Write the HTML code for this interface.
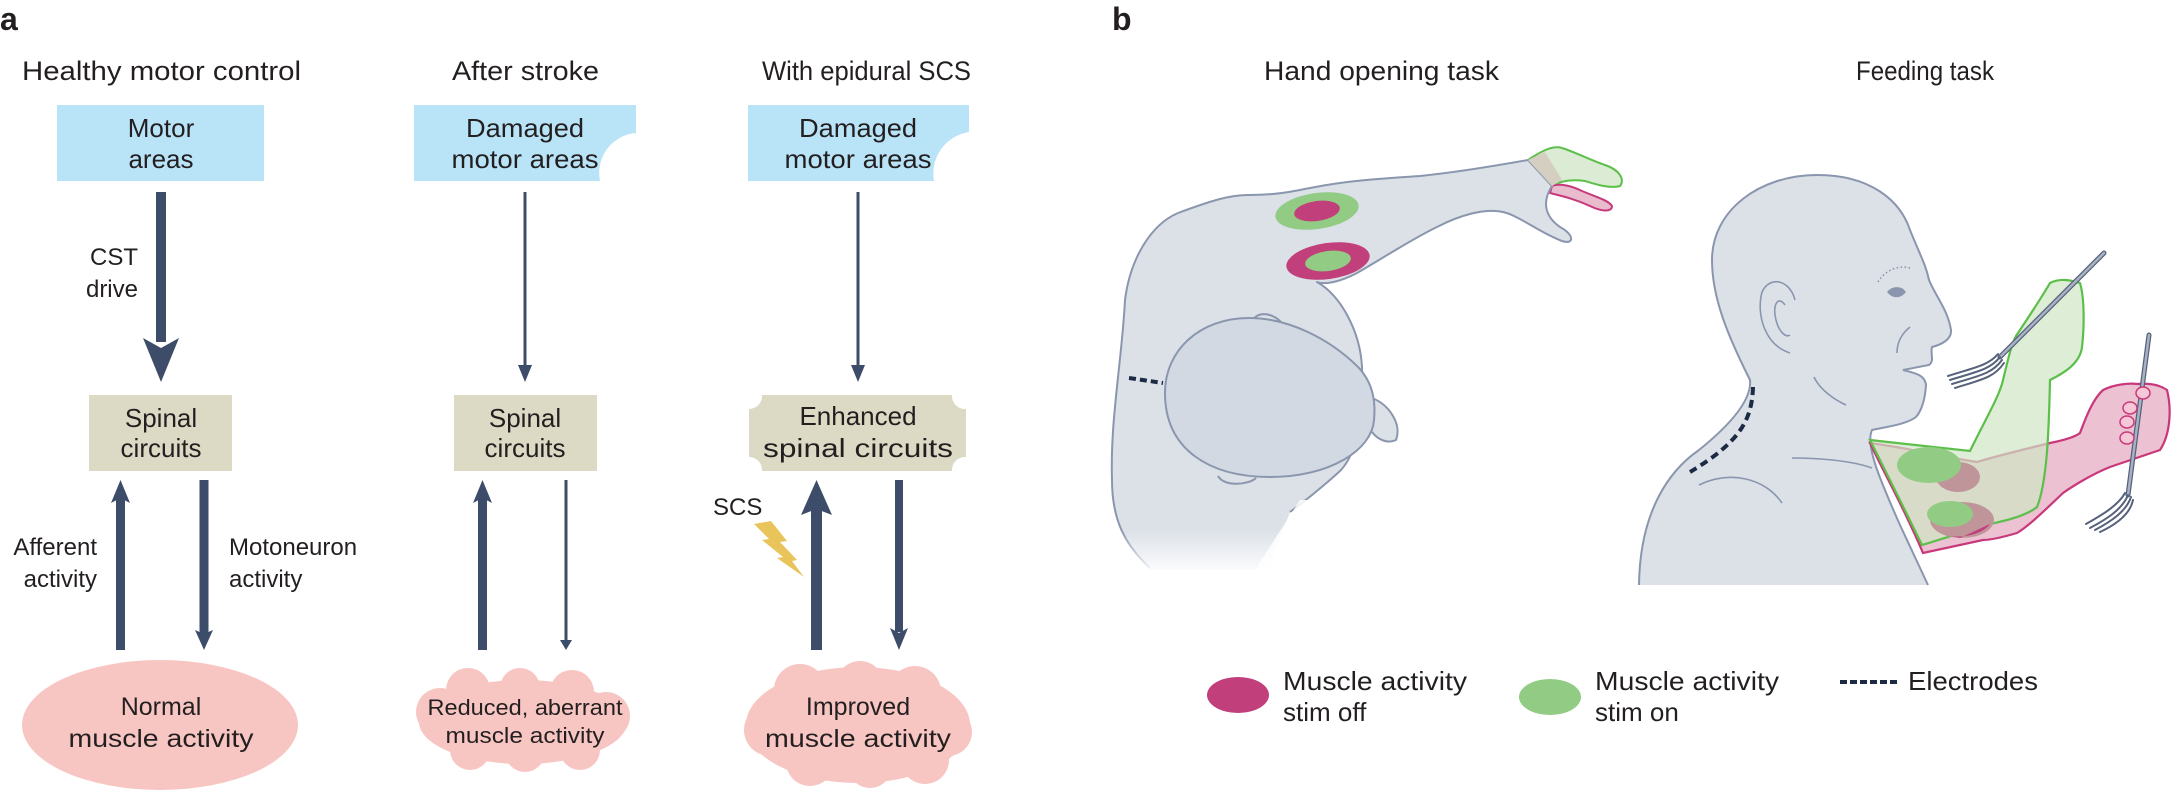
<!DOCTYPE html>
<html><head><meta charset="utf-8"><style>html,body{margin:0;padding:0;background:#fff}svg{display:block}</style></head><body>
<svg width="2171" height="791" viewBox="0 0 2171 791" xmlns="http://www.w3.org/2000/svg" font-family="Liberation Sans, sans-serif" fill="#231f20">
<defs>
<linearGradient id="fade" x1="0" y1="0" x2="0" y2="1"><stop offset="0" stop-color="#fff" stop-opacity="0"/><stop offset="1" stop-color="#fff" stop-opacity="1"/></linearGradient>
</defs>
<!-- panel labels -->
<text x="0" y="30" font-size="32" font-weight="bold">a</text>
<text x="1112" y="30" font-size="32" font-weight="bold">b</text>
<!-- titles -->
<g font-size="27">
<text x="22" y="80" textLength="279" lengthAdjust="spacingAndGlyphs">Healthy motor control</text>
<text x="452" y="80" textLength="147" lengthAdjust="spacingAndGlyphs">After stroke</text>
<text x="762" y="80" textLength="209" lengthAdjust="spacingAndGlyphs">With epidural SCS</text>
<text x="1264" y="80" textLength="235" lengthAdjust="spacingAndGlyphs">Hand opening task</text>
<text x="1856" y="80" textLength="138" lengthAdjust="spacingAndGlyphs">Feeding task</text>
</g>
<!-- motor boxes -->
<rect x="57" y="105" width="207" height="76" fill="#b9e4f8"/>
<path d="M414,105 H636 V133 A40,40 0 0 0 600,181 H414 Z" fill="#b9e4f8"/>
<path d="M748,105 H969 V132 A42,42 0 0 0 934,181 H748 Z" fill="#b9e4f8"/>
<g font-size="26" text-anchor="middle">
<text x="161" y="137">Motor</text><text x="161" y="168">areas</text>
<text x="525" y="137" textLength="118" lengthAdjust="spacingAndGlyphs">Damaged</text><text x="525" y="168" textLength="147" lengthAdjust="spacingAndGlyphs">motor areas</text>
<text x="858" y="137" textLength="118" lengthAdjust="spacingAndGlyphs">Damaged</text><text x="858" y="168" textLength="147" lengthAdjust="spacingAndGlyphs">motor areas</text>
</g>
<!-- top arrows -->
<g fill="#3d4d69">
<rect x="156" y="192" width="10" height="150"/><path d="M143,338 L161,382 L179,338 L161,348 Z"/>
<rect x="523.5" y="192" width="3" height="178"/><path d="M518,365 L525,382 L532,365 Z"/>
<rect x="856.5" y="192" width="3" height="178"/><path d="M851,365 L858,382 L865,365 Z"/>
</g>
<g font-size="24" text-anchor="end"><text x="138" y="265">CST</text><text x="138" y="297">drive</text></g>
<!-- spinal boxes -->
<rect x="89" y="395" width="143" height="76" fill="#dcdac4"/>
<rect x="454" y="395" width="143" height="76" fill="#dcdac4"/>
<path d="M762,395 H952 A13,13 0 0 0 966,409 V457 A13,13 0 0 0 952,471 H762 A13,13 0 0 0 749,457 V409 A13,13 0 0 0 762,395 Z" fill="#dcdac4"/>
<g font-size="26" text-anchor="middle">
<text x="161" y="427">Spinal</text><text x="161" y="457">circuits</text>
<text x="525" y="427">Spinal</text><text x="525" y="457">circuits</text>
<text x="858" y="425">Enhanced</text><text x="858" y="457" textLength="190" lengthAdjust="spacingAndGlyphs">spinal circuits</text>
</g>
<!-- vertical arrows -->
<g fill="#3d4d69">
<rect x="116" y="495" width="9" height="155"/><path d="M111,503 L120.5,480 L130,503 L120.5,498 Z"/>
<rect x="199.5" y="480" width="9" height="155"/><path d="M195,630 L204,650 L213,630 L204,634 Z"/>
<rect x="478" y="495" width="9" height="155"/><path d="M473,503 L482.5,480 L492,503 L482.5,498 Z"/>
<rect x="564.5" y="480" width="3" height="163"/><path d="M560,640 L566,650 L572,640 Z"/>
<rect x="811" y="505" width="11" height="145"/><path d="M801,515 L816.5,480 L832,515 L816.5,509 Z"/>
<rect x="895" y="480" width="8" height="152"/><path d="M890,628 L899,650 L908,628 L899,633 Z"/>
</g>
<g font-size="24">
<text x="97" y="555" text-anchor="end">Afferent</text><text x="97" y="587" text-anchor="end">activity</text>
<text x="229" y="555">Motoneuron</text><text x="229" y="587">activity</text>
<text x="713" y="515">SCS</text>
</g>
<path d="M754,524 L771,521 L787,541 L780,542 L797,560 L792,561 L804,577 L777,558 L783,557 L762,540 L769,539 Z" fill="#e8c45a"/>
<!-- muscle shapes -->
<ellipse cx="160" cy="725" rx="138" ry="65" fill="#f8c6c2"/>
<g fill="#f8c6c2">
<ellipse cx="523" cy="722" rx="104" ry="42"/>
<circle cx="468" cy="690" r="22"/><circle cx="520" cy="688" r="20"/><circle cx="572" cy="692" r="22"/>
<circle cx="440" cy="712" r="24"/><circle cx="606" cy="716" r="24"/><circle cx="470" cy="750" r="20"/>
<circle cx="525" cy="752" r="20"/><circle cx="580" cy="750" r="20"/>
<ellipse cx="858" cy="725" rx="112" ry="58"/>
<circle cx="800" cy="690" r="26"/><circle cx="860" cy="685" r="24"/><circle cx="915" cy="692" r="26"/>
<circle cx="770" cy="730" r="26"/><circle cx="948" cy="732" r="24"/><circle cx="810" cy="762" r="24"/>
<circle cx="870" cy="766" r="22"/><circle cx="925" cy="760" r="24"/>
</g>
<g font-size="25" text-anchor="middle">
<text x="161" y="715">Normal</text><text x="161" y="747" textLength="185" lengthAdjust="spacingAndGlyphs">muscle activity</text>
<text x="858" y="715">Improved</text><text x="858" y="747" textLength="186" lengthAdjust="spacingAndGlyphs">muscle activity</text>
</g>
<g font-size="22" text-anchor="middle">
<text x="525" y="715" textLength="195" lengthAdjust="spacingAndGlyphs">Reduced, aberrant</text><text x="525" y="743" textLength="159" lengthAdjust="spacingAndGlyphs">muscle activity</text>
</g>

<!-- hand opening figure -->
<g stroke="#8a96ad" stroke-width="2" stroke-linejoin="round">
<path d="M1528,160 C1540,152 1552,145 1562,148 C1575,152 1590,160 1605,165 C1620,170 1625,180 1620,186 C1610,189 1595,184 1585,181 C1570,179 1560,181 1552,186 Z" fill="#dcebd3" stroke="#5cc04a"/>
<path d="M1552,186 C1560,183 1572,186 1582,191 C1596,197 1608,200 1612,206 C1612,213 1600,211 1590,206 C1575,199 1562,196 1550,193 Z" fill="#e9bccd" stroke="#c8387a"/>
<path d="M1178,213 C1213,200 1230,195 1249,195 C1275,195 1290,192 1310,188 C1350,180 1390,178 1420,176 C1460,172 1500,165 1528,160 L1552,186 C1543,200 1543,215 1560,227 C1575,235 1574,245 1562,241 C1540,233 1518,215 1503,212 C1485,208 1460,215 1437,227 C1410,240 1380,260 1357,273 C1340,282 1325,285 1317,282 C1340,295 1360,330 1362,367 L1362,400 C1360,440 1350,460 1341,470 C1320,490 1300,505 1290,512 L1268,570 L1150,570 C1125,545 1112,520 1112,480 C1110,420 1122,360 1125,300 C1130,260 1150,225 1178,213 Z" fill="#dce1e8" stroke="none"/>
<path d="M1290,512 C1320,490 1341,470 1341,470 C1350,460 1360,440 1362,400 L1362,367 C1360,330 1340,295 1317,282 C1325,285 1340,282 1357,273 C1380,260 1410,240 1437,227 C1460,215 1485,208 1503,212 C1518,215 1540,233 1562,241 C1574,245 1575,235 1560,227 C1543,215 1543,200 1552,186 L1528,160 C1500,165 1460,172 1420,176 C1390,178 1350,180 1310,188 C1290,192 1275,195 1249,195 C1230,195 1213,200 1178,213 C1150,225 1130,260 1125,300 C1122,360 1110,420 1112,480 C1112,520 1125,545 1150,568" fill="none"/>
<path d="M1528,160 L1552,186 L1562,180 L1545,152 Z" fill="#d4cfc0" stroke="none"/>
<path d="M1252,322 C1256,310 1275,312 1284,326" fill="#dce1e8"/>
<path d="M1372,398 C1390,405 1402,425 1396,440 C1388,444 1378,440 1372,432" fill="#dce1e8"/>
<path d="M1218,476 C1225,488 1250,484 1256,478" fill="#dce1e8"/>
<path d="M1165,393 C1165,350 1200,318 1249,318 C1290,318 1330,340 1356,365 C1372,380 1376,400 1374,420 C1372,450 1330,477 1270,477 C1210,477 1165,450 1165,393 Z" fill="#d2d9e2"/>
</g>
<path d="M1255,570 L1300,500 L1330,500 L1290,575 Z" fill="#fff" opacity="0.85"/>
<rect x="1100" y="530" width="220" height="45" fill="url(#fade)"/>
<path d="M1129,378 L1163,383" stroke="#1c2a44" stroke-width="4" stroke-dasharray="7,4"/>
<g transform="rotate(-8 1317 211)"><ellipse cx="1317" cy="211" rx="42" ry="18" fill="#92cc84"/><ellipse cx="1317" cy="211" rx="23" ry="10" fill="#c13f7a"/></g>
<g transform="rotate(-8 1328 261)"><ellipse cx="1328" cy="261" rx="42" ry="18" fill="#c13f7a"/><ellipse cx="1328" cy="261" rx="23" ry="10" fill="#92cc84"/></g>

<!-- feeding figure -->
<path d="M1639,585 C1640,510 1670,470 1699,450 C1730,425 1752,400 1750,380 C1730,340 1712,300 1712,260 C1712,210 1760,175 1817,175 C1870,175 1900,200 1910,230 C1920,255 1926,265 1929,280 C1935,295 1948,310 1951,330 C1952,340 1940,345 1932,347 C1930,355 1935,360 1929,365 L1903,370 C1915,373 1925,375 1926,385 C1925,400 1922,410 1916,417 C1905,425 1885,427 1872,430 C1865,445 1880,480 1900,525 L1928,585 Z" fill="#dce1e8"/>
<path d="M1639,585 C1640,510 1670,470 1699,450 C1730,425 1752,400 1750,380 C1730,340 1712,300 1712,260 C1712,210 1760,175 1817,175 C1870,175 1900,200 1910,230 C1920,255 1926,265 1929,280 C1935,295 1948,310 1951,330 C1952,340 1940,345 1932,347 C1930,355 1935,360 1929,365 L1903,370 C1915,373 1925,375 1926,385 C1925,400 1922,410 1916,417 C1905,425 1885,427 1872,430 C1865,445 1880,480 1900,525 L1928,585" fill="none" stroke="#8a96ad" stroke-width="2"/>
<g fill="none" stroke="#8a96ad" stroke-width="1.6">
<path d="M1795,300 C1790,280 1770,275 1762,292 C1756,315 1765,345 1790,353"/>
<path d="M1785,305 C1778,295 1772,305 1776,320 C1779,332 1786,338 1790,335"/>
<path d="M1888,292 C1893,286 1902,287 1905,292 C1900,298 1893,298 1888,292 Z" fill="#8a96ad"/>
<path d="M1878,282 C1885,270 1898,265 1910,268" stroke-dasharray="1.5,2.5"/>
<path d="M1910,327 C1900,335 1897,345 1897,353"/>
<path d="M1814,377 C1820,390 1835,400 1846,405"/>
<path d="M1792,458 C1815,458 1850,460 1872,468"/>
<path d="M1699,485 C1730,470 1765,478 1782,503"/>
</g>
<path d="M1753,387 C1752,420 1740,442 1690,472" fill="none" stroke="#1c2a44" stroke-width="4" stroke-dasharray="8,5"/>
<!-- arms -->
<path d="M1870,443 C1920,450 1950,458 1977,462 C2000,455 2030,448 2050,443 C2065,440 2075,437 2080,433 C2085,420 2092,400 2103,390 C2115,384 2130,383 2137,384 C2150,383 2160,385 2167,390 C2172,410 2170,435 2160,450 C2145,455 2125,462 2110,467 C2090,475 2070,488 2063,493 C2045,510 2030,525 2017,533 C2000,538 1990,540 1983,540 L1923,553 C1905,510 1885,475 1870,443 Z" fill="#e4a7be" fill-opacity="0.7" stroke="#c8387a" stroke-width="2.2"/>
<path d="M1870,440 L1970,451 C1985,420 2000,395 2003,380 C2008,360 2012,340 2018,333 C2030,315 2040,300 2050,283 C2060,278 2070,280 2080,283 C2085,300 2084,330 2082,347 C2080,365 2060,375 2050,380 C2049,420 2048,480 2037,507 C2025,517 2000,522 1990,524 L1922,545 C1905,510 1885,470 1870,440 Z" fill="#cfe6c5" fill-opacity="0.7" stroke="#5cbf4a" stroke-width="2.2"/>
<ellipse cx="1958" cy="477" rx="22" ry="15" fill="#c0959a"/>
<ellipse cx="1929" cy="465" rx="32" ry="18" fill="#92cc84"/>
<ellipse cx="1962" cy="520" rx="32" ry="18" fill="#c0959a"/>
<path d="M1945,535 C1965,540 1985,532 1990,524 L1960,538 Z" fill="#c13f7a"/>
<ellipse cx="1950" cy="514" rx="23" ry="13" fill="#92cc84"/>
<!-- forks -->
<g stroke="#56627a" fill="none" stroke-linecap="round">
<path d="M2104,253 L2000,357" stroke-width="5"/><path d="M2104,253 L2000,357" stroke="#a9b2c4" stroke-width="2.5"/>
<path d="M2000,357 C1990,370 1975,372 1950,380 M2002,360 C1992,374 1978,376 1952,384 M1998,354 C1988,366 1972,368 1948,376 M2004,363 C1994,378 1980,380 1955,388" stroke-width="2"/>
<path d="M2149,335 L2128,495" stroke-width="5"/><path d="M2149,335 L2128,495" stroke="#a9b2c4" stroke-width="2.5"/>
<path d="M2128,495 C2122,510 2105,520 2090,528 M2131,497 C2126,512 2110,522 2095,530 M2125,493 C2118,506 2100,516 2086,524 M2133,500 C2130,515 2115,525 2100,532" stroke-width="2"/>
</g>
<g fill="#f6c7d7" stroke="#c8387a" stroke-width="1.5">
<ellipse cx="2143" cy="393" rx="7" ry="6"/><ellipse cx="2130" cy="408" rx="7" ry="6"/><ellipse cx="2127" cy="422" rx="7" ry="6"/><ellipse cx="2127" cy="438" rx="7" ry="6"/>
</g>
<!-- legend -->
<ellipse cx="1238" cy="695" rx="31" ry="18" fill="#c13f7a"/>
<ellipse cx="1550" cy="697" rx="31" ry="18" fill="#92cc84"/>
<path d="M1840,682 L1897,682" stroke="#1c2a44" stroke-width="4" stroke-dasharray="7,3"/>
<g font-size="26">
<text x="1283" y="690" textLength="184" lengthAdjust="spacingAndGlyphs">Muscle activity</text><text x="1283" y="721">stim off</text>
<text x="1595" y="690" textLength="184" lengthAdjust="spacingAndGlyphs">Muscle activity</text><text x="1595" y="721">stim on</text>
<text x="1908" y="690" textLength="130" lengthAdjust="spacingAndGlyphs">Electrodes</text>
</g>
</svg>
</body></html>
